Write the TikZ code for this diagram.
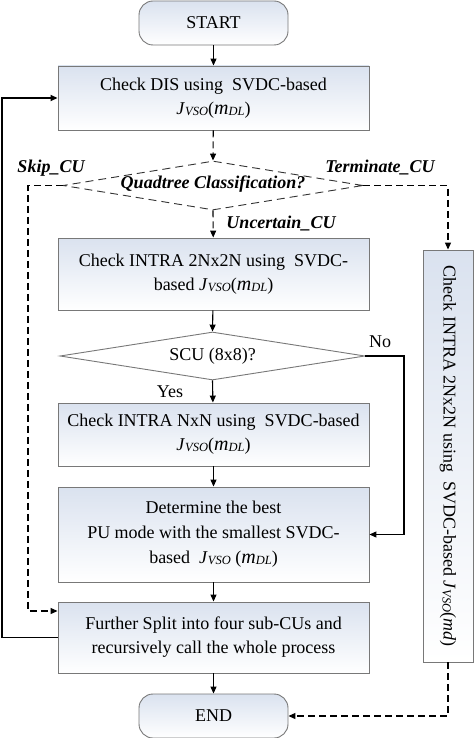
\documentclass[tikz,border=0pt]{standalone}
\usepackage{fontspec}
\setmainfont{Liberation Serif}
\usetikzlibrary{arrows.meta,shapes.geometric,calc}
\definecolor{boxtop}{RGB}{218,226,239}
\definecolor{boxline}{RGB}{120,120,120}
\newcommand\subit[1]{\raisebox{-1pt}{\fontsize{12.5}{12.5}\selectfont\itshape #1}}
\newcommand\Jvso{\textit{J}\subit{VSO}}
\newcommand\mdl{{\fontsize{20}{20}\selectfont\textit{m}}\subit{DL}}
\begin{document}
\begin{tikzpicture}[x=1pt,y=-1pt,
  box/.style={draw=boxline, line width=0.9pt, top color=boxtop, bottom color=white,
    minimum width=311pt, align=center, font=\fontsize{18}{24}\selectfont, inner sep=0pt},
  term/.style={box, rounded corners=14pt, minimum width=149pt, minimum height=44pt},
  dia/.style={draw=boxline, line width=0.9pt, diamond, inner sep=0pt, fill=white},
  conn/.style={draw=black, line width=1.1pt, -{Triangle[length=7pt,width=6pt]}},
  dconn/.style={conn, dash pattern=on 7pt off 4pt},
  lab/.style={font=\fontsize{18}{18}\selectfont\bfseries\itshape, inner sep=0pt},
  txt/.style={font=\fontsize{18}{18}\selectfont, inner sep=0pt}
]
\useasboundingbox (0,0) rectangle (474,738);

\node[term] (start) at (213.5,23) {START};
\node[box, minimum height=64pt] (b1) at (213.5,98) {Check DIS using\ \ SVDC-based\\ \Jvso(\mdl)};
\node[dia, draw=black!80, dash pattern=on 8pt off 5pt, minimum width=300pt, minimum height=49pt] (d1) at (213,185.5) {};
\node[lab] (qc) at (213,184) {Quadtree Classification?};
\node[box, minimum height=72pt] (b2) at (213.5,274) {Check INTRA 2Nx2N using\ \ SVDC-\\ based \Jvso(\mdl)};
\node[dia, minimum width=305pt, minimum height=48pt] (d2) at (212.5,356) {};
\node[txt] (scu) at (212.5,356) {SCU (8x8)?};
\node[box, minimum height=63pt] (b3) at (213.5,434.5) {Check INTRA NxN using\ \ SVDC-based\\ \Jvso(\mdl)};
\node[box, minimum height=95pt, font=\fontsize{18}{25}\selectfont] (b4) at (213.5,534.5) {Determine the best\\ PU mode with the smallest SVDC-\\ based\ \ \Jvso\ (\mdl)};
\node[box, minimum height=71pt] (b5) at (213.5,637.5) {Further Split into four sub-CUs and\\ recursively call the whole process};
\node[term] (end) at (213.5,716) {END};
\node[box, rotate=-90, minimum width=412pt, minimum height=50pt] (vb) at (448,456)
  {Check INTRA 2Nx2N using\ \ SVDC-based \textit{J}\subit{VSO}(\textit{md})};

\node[lab] (skip) at (51,168) {Skip\_CU};
\node[lab] (term) at (380,168) {Terminate\_CU};
\node[lab] (unc) at (281,224) {Uncertain\_CU};
\node[txt] (yes) at (170,392) {Yes};
\node[txt] (no) at (380,342) {No};

\coordinate (skipturn) at (28,611);
\coordinate (termturn) at (448,185.5);
\coordinate (noturn) at (404,356);
\coordinate (loopturn) at (2,637.5);

\draw[conn] (start) -- (b1);
\draw[dconn] (b1) -- (d1.north);
\draw[dconn] (d1.south) -- (b2);
\draw[dconn] (d1.west) -| (skipturn) -- (skipturn -| b5.west);
\draw[dconn] (d1.east) -- (termturn) -- (vb.west);
\draw[dconn] (vb.east) |- (end.east);
\draw[conn] (b2) -- (d2.north);
\draw[conn] (d2.south) -- (b3);
\draw[conn] (d2.east) -- (noturn) |- (b4.east);
\draw[conn] (b3) -- (b4);
\draw[conn] (b4) -- (b5);
\draw[conn] (b5) -- (end);
\draw[conn, line width=1.8pt] (b5.west) -- (loopturn) |- (b1.west);
\end{tikzpicture}
\end{document}
